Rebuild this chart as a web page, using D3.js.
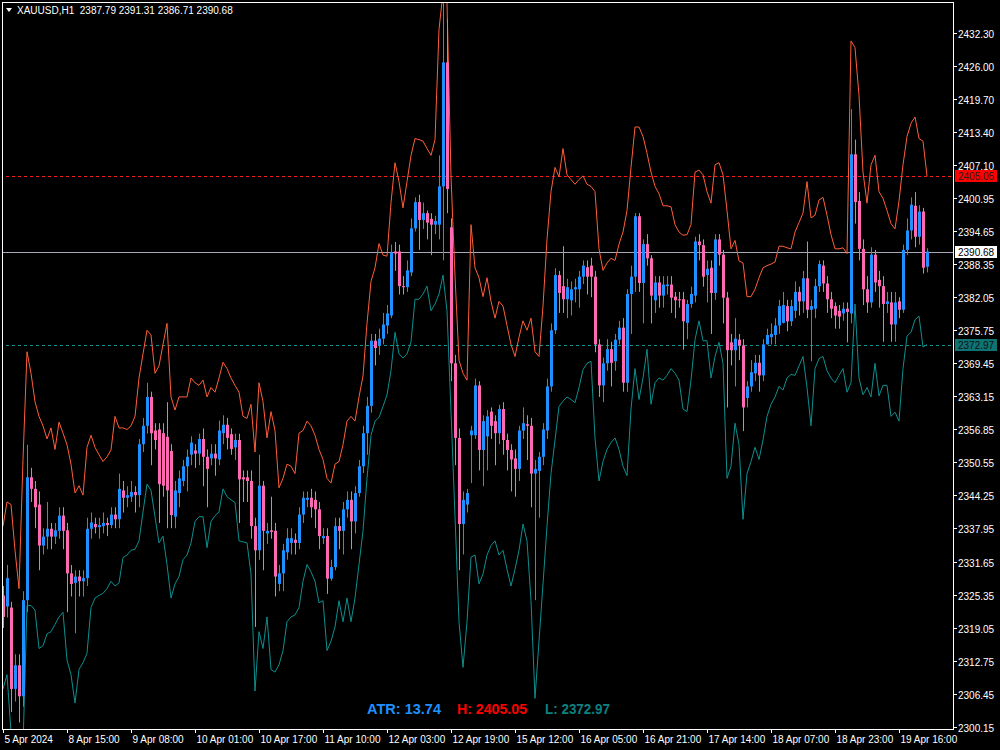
<!DOCTYPE html>
<html><head><meta charset="utf-8">
<script src="https://cdn.jsdelivr.net/npm/d3@7/dist/d3.min.js"></script>
<style>html,body{margin:0;padding:0;background:#000;}svg{display:block;}</style>
</head><body>
<script>
const opens=[2325.2,2323.1,2322.9,2307.4,2311.9,2306.0,2324.3,2347.7,2345.5,2342.5,2334.7,2336.4,2337.9,2336.4,2337.5,2340.4,2337.6,2329.4,2327.6,2328.8,2327.9,2328.5,2337.9,2338.8,2338.2,2338.4,2339.0,2338.6,2340.6,2339.7,2345.2,2343.8,2344.0,2344.9,2344.3,2354.0,2357.5,2363.0,2356.6,2356.8,2356.1,2355.4,2352.7,2340.2,2344.7,2347.0,2349.8,2352.0,2352.8,2352.2,2355.0,2351.6,2351.3,2352.2,2351.1,2356.1,2357.7,2355.9,2353.4,2354.8,2347.7,2347.7,2347.0,2338.4,2333.8,2346.1,2337.0,2337.6,2337.5,2327.4,2329.4,2333.4,2335.2,2335.8,2335.2,2340.6,2343.4,2343.8,2343.4,2341.6,2336.1,2336.5,2328.4,2330.6,2338.4,2337.5,2341.6,2343.4,2339.3,2344.7,2349.8,2356.1,2361.3,2373.7,2372.8,2374.1,2376.6,2378.5,2390.7,2390.7,2384.1,2383.9,2386.7,2395.1,2400.1,2396.7,2398.0,2396.9,2395.8,2395.8,2403.1,2426.7,2395.3,2369.4,2355.2,2338.8,2342.5,2355.7,2355.7,2365.2,2352.9,2355.5,2360.2,2358.4,2356.1,2360.7,2354.8,2352.9,2351.3,2349.3,2356.6,2357.8,2357.5,2348.4,2348.9,2351.6,2356.6,2365.0,2375.7,2386.2,2384.1,2381.6,2381.4,2383.5,2383.5,2385.9,2387.7,2388.0,2385.9,2373.0,2365.2,2369.4,2372.1,2369.8,2373.9,2376.2,2365.7,2382.6,2385.9,2397.4,2384.7,2392.1,2389.4,2381.4,2384.8,2382.3,2384.1,2384.4,2382.1,2381.6,2381.6,2377.1,2380.7,2382.3,2392.6,2391.9,2386.2,2387.6,2382.8,2393.0,2390.1,2381.9,2373.4,2371.9,2373.9,2372.8,2362.8,2365.0,2367.5,2369.5,2367.1,2373.0,2374.4,2374.8,2376.6,2377.1,2380.3,2377.4,2379.4,2383.0,2381.2,2385.6,2379.6,2379.8,2384.1,2388.0,2384.6,2381.6,2380.3,2379.4,2378.9,2379.8,2378.9,2409.2,2400.3,2391.2,2383.5,2381.0,2390.1,2385.3,2384.1,2380.7,2381.0,2376.8,2381.2,2379.6,2391.0,2394.7,2399.4,2393.5,2398.3,2387.79];
const closes=[2321.1,2328.5,2307.4,2311.9,2306.0,2324.3,2347.7,2345.5,2342.0,2334.7,2336.4,2337.9,2336.4,2337.6,2340.4,2337.5,2329.4,2327.4,2328.8,2327.9,2328.5,2337.9,2339.1,2338.2,2338.6,2339.0,2338.6,2340.6,2339.7,2345.5,2343.8,2344.3,2344.9,2344.3,2354.0,2357.5,2363.0,2356.1,2354.8,2346.4,2346.1,2345.2,2340.5,2345.2,2347.5,2349.8,2351.6,2354.3,2352.2,2355.0,2351.6,2349.3,2352.2,2351.3,2356.6,2357.7,2355.2,2353.1,2354.8,2347.3,2347.3,2347.0,2338.4,2333.8,2346.1,2337.5,2337.5,2337.3,2328.8,2329.4,2333.8,2336.1,2336.1,2335.2,2340.6,2343.8,2343.8,2342.0,2341.6,2336.5,2336.5,2328.4,2330.6,2338.4,2337.5,2341.6,2343.4,2339.3,2344.7,2349.8,2356.1,2361.3,2373.7,2372.3,2374.1,2376.8,2378.9,2390.5,2390.3,2384.1,2383.9,2387.1,2395.1,2400.1,2396.7,2398.0,2396.2,2395.8,2396.5,2403.1,2426.7,2402.6,2369.4,2355.2,2338.8,2343.4,2344.7,2356.6,2365.2,2352.9,2358.4,2359.3,2357.5,2356.1,2360.7,2354.8,2352.9,2351.1,2349.3,2356.6,2358.0,2357.5,2348.4,2349.3,2351.6,2356.8,2365.0,2375.7,2386.2,2382.8,2381.6,2383.9,2383.5,2383.9,2385.9,2388.0,2385.9,2385.9,2373.0,2365.2,2369.4,2372.1,2369.5,2373.9,2376.2,2365.7,2382.6,2385.9,2397.4,2384.7,2392.1,2389.4,2382.3,2384.8,2382.3,2384.4,2384.4,2381.9,2381.4,2381.4,2377.4,2380.7,2382.6,2392.6,2391.9,2385.9,2387.4,2382.8,2393.0,2390.1,2381.9,2371.9,2371.9,2374.1,2372.8,2361.0,2365.0,2367.7,2369.5,2367.1,2373.0,2374.8,2375.0,2376.6,2380.3,2380.5,2377.4,2380.3,2383.0,2381.2,2385.6,2379.6,2380.3,2384.1,2388.3,2384.6,2381.6,2379.8,2378.5,2378.3,2379.8,2379.2,2409.2,2400.1,2391.2,2383.5,2381.0,2390.1,2384.8,2384.1,2380.7,2381.2,2376.8,2381.0,2379.6,2391.0,2394.7,2399.6,2393.5,2398.3,2387.6,2390.68];
const highs=[2327,2331,2324,2314,2314,2326,2353.9,2349.5,2347,2345,2338,2343,2339,2339,2342,2342,2339,2331,2330,2330,2330,2340,2341,2340,2340,2341,2340,2342,2342,2348.4,2347,2346,2347,2346,2355,2359,2365.7,2364,2358,2358,2358,2362,2354,2347,2349,2351,2353,2355.5,2354,2356,2357,2353,2354,2354,2358.5,2359.5,2359,2357,2356,2356,2349,2349,2349,2340,2352,2347,2339,2344,2339,2331,2335,2338,2338,2337,2342,2345,2345,2345.5,2345,2343,2338,2338,2332,2340,2340,2343,2345,2345,2346,2351,2357.5,2363,2375,2375,2376,2379,2380.5,2392,2392.5,2392,2386,2389,2397,2401,2401.5,2400,2398.5,2398,2397.5,2409,2438.6,2434.9,2397,2371,2357,2345,2345.5,2357.5,2366.5,2366,2359.5,2360.5,2361,2359.5,2361.5,2362,2356,2354,2353,2357.5,2361,2359.5,2359,2351,2352.5,2358,2366.5,2377,2387.5,2387,2391.7,2385.5,2385,2385.5,2387,2389,2389,2389.5,2387,2374,2370.5,2374,2373.5,2375,2377.5,2378,2383.5,2388,2398,2398,2393,2394,2390,2386,2386,2386,2386,2386,2383,2383,2383,2381.5,2384,2393.5,2394,2393,2389,2389,2394,2394,2391,2383,2375,2378,2375,2374,2366,2370,2371,2371,2374,2376,2377,2378,2381.5,2383,2381.5,2381.5,2385,2384,2387,2392.6,2381.5,2385.5,2389,2389,2386,2383,2381,2380.5,2381,2381,2417.8,2412,2402,2393,2386,2391.5,2391,2387,2386,2383,2383,2383,2382,2392,2397,2401,2402,2399.5,2399,2391.31];
const lows=[2319,2321,2303,2305,2301,2304,2322,2343,2338,2330,2333,2334,2334,2335,2336,2334,2322,2325,2318,2325,2325,2327,2336,2337,2336,2337,2336.5,2338,2338,2338,2341,2342,2343,2341,2342,2352.5,2356,2350,2353,2339,2344,2338,2338,2338,2342,2346,2345,2350,2349.5,2350,2346,2342,2350,2348,2350,2354,2353,2352,2351,2339,2343,2343,2336,2319.2,2332,2330,2335,2336,2325,2326,2326,2332,2333,2333,2334,2339,2342,2340,2338,2334,2335,2325.5,2328,2330,2334,2333,2340,2334,2337,2344,2348.5,2352,2360,2369,2371,2373,2375,2378,2387,2382.5,2382.5,2383,2386,2394.5,2391,2395,2393,2390,2394,2393,2389,2398,2366,2350,2330,2333,2341,2346.6,2355,2349,2346,2349,2355,2350,2354,2352,2349,2345,2344,2347,2355,2351,2342,2324.3,2340,2350,2355,2364,2375,2379,2379,2378,2378.5,2381,2380,2384.5,2382.5,2382,2371.5,2363,2362,2368,2365,2368,2373,2364,2364,2375,2383,2383,2377,2388,2377,2379,2380,2380,2382.5,2379,2378,2380,2372,2374,2380,2381,2389,2384,2381,2375,2381.5,2388,2377,2361,2369,2365,2370,2356.5,2361,2364,2366,2364,2366,2373,2373,2373,2375,2377,2375.5,2376.5,2378,2378.5,2379,2378,2369.8,2378,2383,2383,2379,2378,2376,2376,2377.5,2373.4,2377,2396,2389,2380.5,2379,2380,2383,2380,2373.5,2379,2373.5,2373.5,2378,2379,2390,2393,2391.5,2392,2386.5,2386.71];
const upperBand=[2338.4,2343.0,2342.5,2333.8,2326.5,2351.1,2371.6,2367.5,2362.1,2359.3,2357.5,2355.0,2357.1,2353.0,2358.2,2356.1,2353.9,2350.2,2344.7,2346.1,2344.3,2353.4,2355.7,2353.4,2352.0,2350.7,2351.6,2352.9,2359.3,2357.1,2357.1,2356.8,2357.5,2359.3,2366.6,2371.2,2375.7,2374.8,2367.5,2368.9,2373.0,2377.0,2363.0,2360.5,2363.0,2363.0,2363.0,2366.6,2365.7,2365.2,2366.2,2363.0,2364.8,2363.9,2366.6,2369.6,2368.4,2366.6,2365.2,2363.9,2359.3,2358.9,2361.6,2352.5,2365.7,2362.1,2355.2,2360.2,2356.6,2345.7,2347.5,2350.2,2349.8,2348.4,2356.1,2356.6,2358.4,2357.5,2355.7,2353.0,2351.1,2347.5,2346.6,2350.2,2350.7,2353.9,2358.4,2359.3,2358.4,2363.0,2367.0,2377.0,2385.0,2387.6,2392.2,2390.0,2389.8,2400.0,2407.6,2404.0,2399.0,2404.0,2409.0,2412.2,2412.0,2411.7,2410.3,2409.0,2412.0,2433.0,2440,2438,2405,2386,2370,2367.5,2366.2,2395.8,2387.6,2385.7,2382.1,2385.7,2381.2,2378.0,2381.2,2380.3,2376.6,2373.0,2370.7,2374.4,2377.5,2375.7,2378.0,2371.6,2370.7,2380.3,2393.0,2402.1,2406.7,2404.9,2410.3,2405.3,2404.4,2403.5,2404.4,2405.1,2403.5,2403.1,2402.1,2391.2,2387.1,2388.5,2389.4,2389.0,2392.1,2394.4,2398.5,2406.7,2414.4,2414.4,2412.6,2409.4,2405.8,2403.1,2401.7,2399.4,2399.4,2399.2,2395.8,2394.4,2393.8,2393.9,2395.8,2405.8,2406.2,2405.3,2402.1,2399.9,2407.2,2407.6,2405.3,2398.5,2391.2,2392.8,2388.9,2388.5,2382.1,2382.1,2383.5,2385.7,2387.6,2388.0,2388.3,2388.7,2391.7,2391.7,2391.4,2391.2,2394.4,2396.2,2398.0,2404.0,2397.1,2397.6,2400.5,2401.0,2397.6,2393.9,2391.2,2391.2,2391.4,2390.3,2430.8,2429.5,2420.4,2405.8,2399.9,2407.2,2409.0,2402.1,2400.8,2398.5,2396.0,2395.0,2400.3,2407.2,2412.6,2415.1,2416.3,2412.2,2411.7,2405.05];
const lowerBand=[2307.4,2310.1,2299.2,2296.5,2296.5,2296.5,2323.3,2323.3,2322.4,2315.1,2315.6,2317.9,2318.3,2319.7,2321.1,2322.0,2312.9,2310.1,2304.7,2311.1,2312.4,2314.2,2322.9,2324.7,2325.2,2325.6,2326.5,2327.9,2327.0,2327.6,2332.4,2332.9,2333.8,2334.0,2335.6,2341.1,2346.4,2345.2,2340.2,2335.2,2336.5,2331.1,2324.7,2327.4,2328.8,2332.0,2332.9,2335.2,2339.3,2340.2,2340.2,2334.3,2339.3,2340.4,2341.1,2345.5,2344.0,2343.4,2342.9,2335.6,2335.4,2335.2,2329.3,2307.0,2318.3,2315.1,2321.1,2311.1,2310.6,2312.0,2314.7,2320.2,2321.1,2321.5,2322.9,2327.9,2331.1,2329.7,2327.9,2323.8,2324.2,2314.7,2316.5,2319.2,2324.2,2320.2,2324.7,2320.2,2324.7,2331.1,2337.5,2347.5,2355.7,2358.4,2359.1,2361.2,2363.4,2368.0,2375.3,2371.2,2370.4,2371.2,2373.5,2381.6,2381.6,2382.6,2384.1,2379.4,2380.7,2382.6,2386.2,2379.4,2360.2,2340.2,2320.2,2311.5,2320.2,2332.5,2332.9,2327.4,2329.3,2332.9,2334.7,2335.6,2332.9,2333.8,2330.2,2327.0,2330.2,2333.8,2338.8,2335.6,2324.2,2305.6,2316.5,2327.4,2338.4,2348.4,2354.8,2361.2,2362.2,2363.0,2362.5,2361.9,2364.8,2368.2,2369.4,2369.8,2355.2,2347.0,2350.7,2353.0,2354.3,2355.2,2353.0,2349.8,2348.0,2360.7,2368.4,2362.5,2366.6,2372.1,2361.6,2365.7,2366.6,2366.2,2367.1,2368.4,2367.5,2366.2,2360.7,2360.2,2366.2,2373.9,2377.5,2373.7,2373.7,2366.6,2370.7,2373.4,2369.4,2347.5,2349.8,2358.0,2353.9,2339.7,2348.4,2350.7,2353.4,2351.1,2354.8,2359.3,2361.6,2363.0,2365.0,2364.3,2366.6,2367.3,2367.1,2368.9,2370.7,2364.8,2357.5,2368.4,2370.3,2370.7,2368.0,2366.6,2365.7,2367.1,2368.4,2363.9,2365.7,2380.7,2366.6,2363.4,2364.8,2363.0,2369.4,2363.2,2365.2,2365.2,2359.3,2360.1,2358.4,2368.4,2374.6,2375.3,2377.7,2378.4,2372.5,2372.97];
const priceTicks=[2432.30,2426.00,2419.70,2413.40,2407.10,2400.95,2394.65,2388.35,2382.05,2375.75,2369.45,2363.15,2356.85,2350.55,2344.25,2337.95,2331.65,2325.35,2319.05,2312.75,2306.45,2300.15];
const timeLabels=["5 Apr 2024","8 Apr 15:00","9 Apr 08:00","10 Apr 01:00","10 Apr 17:00","11 Apr 10:00","12 Apr 03:00","12 Apr 19:00","15 Apr 12:00","16 Apr 05:00","16 Apr 21:00","17 Apr 14:00","18 Apr 07:00","18 Apr 23:00","19 Apr 16:00"];
const timeLabelBars=[0,16,32,48,64,80,96,112,128,144,160,176,192,208,224];
const levelHigh=2405.05, levelLow=2372.97, lastPrice=2390.68, atrValue="13.74";
const header="XAUUSD,H1  2387.79 2391.31 2386.71 2390.68";

const W=1000,H=750, plotR=953, plotB=729;
const svg=d3.select("body").append("svg").attr("width",W).attr("height",H).style("background","#000");
const y=d3.scaleLinear().domain([2300.15,2432.30]).range([727,33]);
const x=d3.scaleLinear().domain([0,231]).range([3,927]);
const font="'Liberation Sans', Arial, sans-serif";

svg.append("defs").append("clipPath").attr("id","pc").append("rect").attr("x",2).attr("y",3).attr("width",plotR-2).attr("height",plotB-3);
const g=svg.append("g").attr("clip-path","url(#pc)");

g.append("line").attr("x1",0).attr("x2",plotR).attr("y1",Math.round(y(levelHigh))+0.5).attr("y2",Math.round(y(levelHigh))+0.5).attr("stroke","#ff1a1a").attr("stroke-dasharray","3,3");
g.append("line").attr("x1",0).attr("x2",plotR).attr("y1",Math.round(y(lastPrice))+0.5).attr("y2",Math.round(y(lastPrice))+0.5).attr("stroke","#a8a8b8");
g.append("line").attr("x1",0).attr("x2",plotR).attr("y1",Math.round(y(levelLow))+0.5).attr("y2",Math.round(y(levelLow))+0.5).attr("stroke","#129090").attr("stroke-dasharray","3,3");

const line=d3.line().x((d,i)=>x(i)).y(d=>y(d));
g.append("path").datum(upperBand).attr("d",line).attr("fill","none").attr("stroke","#ff5e3a").attr("stroke-width",1);
g.append("path").datum(lowerBand).attr("d",line).attr("fill","none").attr("stroke","#0f8f8f").attr("stroke-width",1);

const idx=d3.range(opens.length);
const col=i=>closes[i]>=opens[i]?"#1e90ff":"#ff69b4";
g.selectAll("line.w").data(idx).join("line").attr("class","w")
 .attr("x1",i=>Math.round(x(i))+0.5).attr("x2",i=>Math.round(x(i))+0.5)
 .attr("y1",i=>y(highs[i])).attr("y2",i=>y(lows[i])).attr("stroke",col).attr("stroke-width",1);
g.selectAll("rect.b").data(idx).join("rect").attr("class","b")
 .attr("x",i=>Math.round(x(i))-1).attr("width",3)
 .attr("y",i=>y(Math.max(opens[i],closes[i])))
 .attr("height",i=>Math.max(1,Math.abs(y(opens[i])-y(closes[i])))).attr("fill",col);

svg.append("rect").attr("x",2.5).attr("y",2.5).attr("width",plotR-2).attr("height",plotB-2).attr("fill","none").attr("stroke","#fff");

const ax=svg.append("g");
priceTicks.forEach(p=>{
  const yy=Math.round(y(p))+0.5;
  ax.append("line").attr("x1",plotR).attr("x2",plotR+4).attr("y1",yy).attr("y2",yy).attr("stroke","#fff");
  ax.append("text").attr("x",958).attr("y",yy+4).attr("fill","#fff").attr("font-family",font).attr("font-size",10).text(p.toFixed(2));
});
function tag(v,bg,fg){
  const yy=Math.round(y(v));
  ax.append("rect").attr("x",955).attr("y",yy-6).attr("width",42).attr("height",12).attr("fill",bg);
  ax.append("text").attr("x",958).attr("y",yy+4).attr("fill",fg).attr("font-family",font).attr("font-size",10).text(v.toFixed(2));
}
tag(levelHigh,"#ff0000","#222");
tag(lastPrice,"#ffffff","#000");
tag(levelLow,"#0d7373","#111");

timeLabelBars.forEach((b,k)=>{
  const xx=Math.round(x(b))+0.5;
  svg.append("line").attr("x1",xx).attr("x2",xx).attr("y1",plotB).attr("y2",plotB+4).attr("stroke","#fff");
  svg.append("text").attr("x",xx+1).attr("y",743).attr("fill","#fff").attr("font-family",font).attr("font-size",10).text(timeLabels[k]);
});

svg.append("path").attr("d","M6,8 L12,8 L9,12 Z").attr("fill","#fff");
svg.append("text").attr("x",17).attr("y",14).attr("fill","#fff").attr("font-family",font).attr("font-size",10).style("white-space","pre").text(header);

const infoItems=[["ATR: "+atrValue,"#1e90ff",367,74],["H: "+levelHigh.toFixed(2),"#ff0000",457,70],["L: "+levelLow.toFixed(2),"#0d8080",545,65]];
infoItems.forEach(([t,c,xx,len])=>{
  svg.append("text").attr("x",xx).attr("y",714).attr("fill",c).attr("font-family",font).attr("font-size",15).attr("font-weight","bold")
    .attr("textLength",len).attr("lengthAdjust","spacingAndGlyphs").text(t);
});
</script>
</body></html>
